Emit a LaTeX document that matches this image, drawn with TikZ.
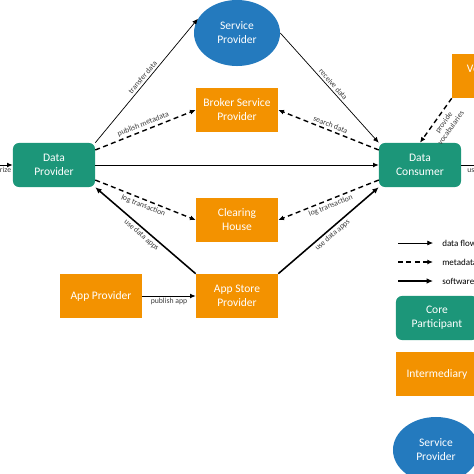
\documentclass[tikz,border=0pt]{standalone}
\usepackage{xcolor}
\usepackage{tikz}
\usepackage{fontspec}
\setmainfont{Carlito}
\usetikzlibrary{shapes.geometric, arrows.meta}
\definecolor{coregreen}{RGB}{28, 150, 121}
\definecolor{midorange}{RGB}{243, 146, 0}
\definecolor{svcblue}{RGB}{36, 122, 190}
\definecolor{labelgray}{RGB}{60, 60, 60}

\begin{document}
\begin{tikzpicture}[
    x=0.025cm, y=-0.025cm,
    core/.style={rectangle, rounded corners=0.15cm, draw=none, fill=coregreen, text=white, minimum width=2.05cm, minimum height=1.1cm, font=\fontsize{8.2}{10}\selectfont, align=center, inner sep=1pt},
    inter/.style={rectangle, draw=none, fill=midorange, text=white, minimum width=2.05cm, minimum height=1.1cm, font=\fontsize{8.2}{10}\selectfont, align=center, inner sep=1pt},
    svc/.style={ellipse, draw=none, fill=svcblue, text=white, minimum width=2.15cm, minimum height=1.65cm, font=\fontsize{8.2}{10}\selectfont, align=center, inner sep=0pt},
    lbl/.style={font=\fontsize{5.5}{6.2}\selectfont, text=labelgray, inner sep=1.5pt, align=center},
    legtext/.style={font=\fontsize{6.4}{7.5}\selectfont, text=black, anchor=west, inner sep=0pt},
    data/.style={-{Latex[length=4pt, width=3.5pt]}, line width=0.5pt, black},
    mainflow/.style={-{Latex[length=4pt, width=3.5pt]}, line width=0.7pt, black},
    meta/.style={-{Latex[length=4pt, width=3.5pt]}, line width=1pt, dashed, dash pattern=on 3.5pt off 2.5pt, black},
    soft/.style={-{Latex[length=4.5pt, width=4pt]}, line width=1.1pt, black}
]
    \useasboundingbox (0,0) rectangle (474,474);
    \clip (0,0) rectangle (474,474);

    % Core participants
    \node[core] (dp) at (54,165) {Data\\Provider};
    \node[core] (dc) at (420,165) {Data\\Consumer};

    % Service provider
    \node[svc] (sp) at (237,33) {Service\\Provider};

    % Intermediaries
    \node[inter] (broker) at (237,110) {Broker Service\\Provider};
    \node[inter] (clear) at (237,220) {Clearing\\House};
    \node[inter] (store) at (237,296) {App Store\\Provider};
    \node[inter] (app) at (101,296) {App Provider};
    \node[inter] (vocab) at (493,76) {Vocabulary\\Provider};

    % Off-picture ends
    \coordinate (authin) at (-20,165);
    \coordinate (useout) at (500,165);

    % Data flow
    \draw[data] (dp.north east) -- node[lbl, sloped, above] {transfer data} (sp.160);
    \draw[data] (sp.east) -- node[lbl, sloped, above] {receive data} (dc.north west);
    \draw[mainflow] (dp.east) -- (dc.west);
    \draw[mainflow] (authin) -- node[lbl, below] {authorize} (dp.west);
    \draw[mainflow] (dc.east) -- node[lbl, below] {use data} (useout);

    % Metadata flow
    \draw[meta] (dp.20) -- node[lbl, sloped, above] {publish metadata} (broker.west);
    \draw[meta] (dc.160) -- node[lbl, sloped, above] {search data} (broker.east);
    \draw[meta] (dp.-20) -- node[lbl, sloped, below] {log transaction} (clear.west);
    \draw[meta] (dc.200) -- node[lbl, sloped, below] {log transaction} (clear.east);
    \draw[meta] (vocab.south west) -- node[lbl, sloped, below, pos=0.45, inner sep=3pt] {provide\\vocabularies} (dc.north);

    % Software flow
    \draw[soft] (store.north west) -- node[lbl, sloped, below] {use data apps} (dp.south east);
    \draw[soft] (store.north east) -- node[lbl, sloped, below] {use data apps} (dc.south west);
    \draw[mainflow] (app.east) -- node[lbl, below] {publish app} (store.west);

    % Legend
    \coordinate (l1a) at (398,243);
    \coordinate (l1b) at (433,243);
    \coordinate (l2a) at (398,262);
    \coordinate (l2b) at (433,262);
    \coordinate (l3a) at (398,281);
    \coordinate (l3b) at (433,281);
    \draw[data] (l1a) -- (l1b);
    \draw[meta] (l2a) -- (l2b);
    \draw[soft] (l3a) -- (l3b);
    \node[legtext] (t1) at (442,243) {data flow};
    \node[legtext] (t2) at (442,262) {metadata flow};
    \node[legtext] (t3) at (442,281) {software flow};

    \node[core] (legcore) at (437,318) {Core\\Participant};
    \node[inter] (leginter) at (437,374) {Intermediary};
    \node[svc] (legsvc) at (436,450) {Service\\Provider};
\end{tikzpicture}
\end{document}
